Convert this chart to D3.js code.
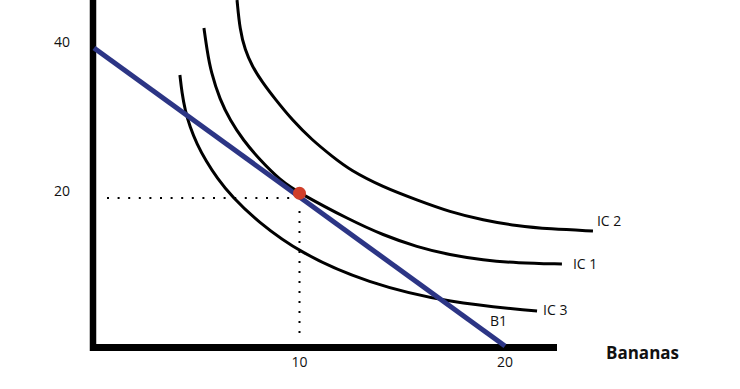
<!DOCTYPE html>
<html>
<head>
<meta charset="utf-8">
<script src="https://cdn.jsdelivr.net/npm/d3@7"></script>
<style>
  body { margin: 0; background: #fff; }
  text { font-family: "Open Sans", sans-serif; fill: #111; }
</style>
</head>
<body>
<svg id="chart" width="740" height="389"></svg>
<script>
// tick labels
var xTicks = [10, 20];
var yTicks = [20, 40];

// budget line B1 (bananas, other good)
var budget = [[0, 40], [20, 0]];

// chosen bundle
var choice = [10, 20.5];

// indifference curves, points
var ic2 = [[6.96, 46.44], [7.10, 42.42], [7.35, 39.73], [7.69, 37.58], [8.18, 35.44], [8.81, 33.15],
           [9.64, 30.34], [10.61, 27.65], [11.63, 25.37], [12.46, 23.62], [14.06, 21.34], [15.72, 19.60],
           [17.32, 17.99], [18.93, 16.91], [20.58, 16.11], [22.19, 15.70], [24.28, 15.44]];
var ic1 = [[5.35, 42.68], [5.50, 39.73], [5.69, 36.78], [6.13, 33.02], [6.62, 30.34], [7.25, 27.65],
           [8.08, 24.97], [9.05, 22.28], [9.98, 20.54], [12.46, 16.91], [14.06, 14.90],
           [15.72, 13.29], [17.32, 12.21], [18.93, 11.54], [20.58, 11.14], [22.77, 11.01]];
var ic3 = [[4.18, 36.38], [4.28, 33.96], [4.43, 31.68], [4.67, 29.40], [5.01, 27.11], [5.45, 24.83],
           [5.99, 22.55], [6.72, 20.0], [7.93, 16.78], [10.02, 12.48], [13.28, 8.46],
           [17.32, 5.77], [21.56, 4.70]];

var curves = [
  {name: "IC 2", pts: ic2, dx: 4, dy: -5},
  {name: "IC 1", pts: ic1, dx: 11, dy: 5},
  {name: "IC 3", pts: ic3, dx: 6, dy: 4}
];

var svg = d3.select("#chart");

var x = d3.scaleLinear().domain([0, 20]).range([94, 505]);
var y = d3.scaleLinear().domain([0, 40]).range([346, 48]);

var line = d3.line()
  .x(d => x(d[0]))
  .y(d => y(d[1]))
  .curve(d3.curveBasis);

// axes (thick black)
svg.append("line")
  .attr("x1", 93).attr("y1", 0)
  .attr("x2", 93).attr("y2", 351)
  .attr("stroke", "#000").attr("stroke-width", 6.5);
svg.append("line")
  .attr("x1", 90).attr("y1", 347.5)
  .attr("x2", 557).attr("y2", 347.5)
  .attr("stroke", "#000").attr("stroke-width", 7);

// dotted guides
svg.append("line")
  .attr("x1", x(0) + 13).attr("y1", y(20) + 1)
  .attr("x2", x(choice[0])).attr("y2", y(20) + 1)
  .attr("stroke", "#000").attr("stroke-width", 2)
  .attr("stroke-dasharray", "2,8.6");
svg.append("line")
  .attr("x1", x(choice[0])).attr("y1", y(20) + 14)
  .attr("x2", x(choice[0])).attr("y2", 340)
  .attr("stroke", "#000").attr("stroke-width", 2)
  .attr("stroke-dasharray", "2,8");

// indifference curves
svg.selectAll("path.ic")
  .data(curves)
  .enter()
  .append("path")
  .attr("class", "ic")
  .attr("d", d => line(d.pts))
  .attr("fill", "none")
  .attr("stroke", "#000")
  .attr("stroke-width", 3);

svg.selectAll("text.ic")
  .data(curves)
  .enter()
  .append("text")
  .attr("class", "ic")
  .attr("x", d => x(d.pts[d.pts.length - 1][0]) + d.dx)
  .attr("y", d => y(d.pts[d.pts.length - 1][1]) + d.dy)
  .attr("font-size", 14)
  .text(d => d.name);

// budget line
svg.append("path")
  .attr("d", d3.line().x(d => x(d[0])).y(d => y(d[1]))(budget))
  .attr("stroke", "#2c3585")
  .attr("stroke-width", 5)
  .attr("fill", "none");

svg.append("text")
  .attr("x", x(19.27)).attr("y", y(2.7))
  .attr("font-size", 14)
  .text("B1");

// chosen point
svg.append("circle")
  .attr("cx", x(choice[0]))
  .attr("cy", y(choice[1]))
  .attr("r", 6.5)
  .attr("fill", "#d03e2a");

// tick labels
svg.selectAll("text.xt")
  .data(xTicks)
  .enter()
  .append("text")
  .attr("class", "xt")
  .attr("x", d => x(d))
  .attr("y", 367)
  .attr("text-anchor", "middle")
  .attr("font-size", 14)
  .text(d => d);

svg.selectAll("text.yt")
  .data(yTicks)
  .enter()
  .append("text")
  .attr("class", "yt")
  .attr("x", 62)
  .attr("y", d => y(d) - 1.5)
  .attr("text-anchor", "middle")
  .attr("font-size", 14)
  .text(d => d);

svg.append("text")
  .attr("x", 606).attr("y", 359)
  .attr("font-size", 17)
  .attr("font-weight", "bold")
  .text("Bananas");
</script>
</body>
</html>
